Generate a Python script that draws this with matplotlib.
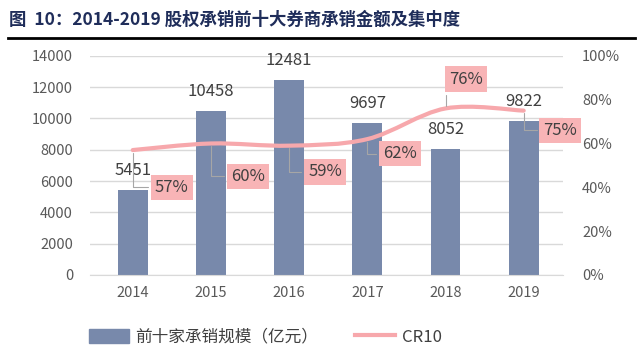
import numpy as np
import matplotlib.pyplot as plt
from matplotlib.lines import Line2D
from matplotlib.patches import Patch, PathPatch
from matplotlib.path import Path

plt.rcParams['font.family'] = ['Noto Sans CJK SC', 'DejaVu Sans']

years = ['2014', '2015', '2016', '2017', '2018', '2019']
amount = [5451, 10458, 12481, 9697, 8052, 9822]
cr10 = [0.57, 0.60, 0.59, 0.62, 0.76, 0.75]
cr10_text = ['57%', '60%', '59%', '62%', '76%', '75%']

bar_color = '#7889AB'
line_color = '#F7A8AC'
box_color = '#F8B4B6'
grey = '#595959'

fig = plt.figure(figsize=(6.41, 3.58), dpi=100)
ax = fig.add_axes([0.140, 0.232, 0.738, 0.612])
ax2 = ax.twinx()

x = np.arange(len(years))
ax.bar(x, amount, width=0.38, color=bar_color, zorder=2)
ax.set_ylim(0, 14000)
ax.set_yticks(np.arange(0, 14001, 2000))
ax.set_xlim(-0.55, 5.5)
ax.set_xticks(x)
ax.set_xticklabels(years)
ax.grid(axis='y', color='#D9D9D9', lw=1, zorder=0)
for s in ['top', 'right', 'left']:
    ax.spines[s].set_visible(False)
ax.spines['bottom'].set_color('#D9D9D9')
ax.tick_params(length=0, colors=grey, labelsize=10.5, pad=8)
ax.tick_params(axis='y', pad=12)

for xi, v in zip(x, amount):
    ax.text(xi, v + 700, str(v), ha='center', va='bottom', fontsize=12, color='#404040')

# smoothed line (Catmull-Rom style bezier through the data points)
xs = x.astype(float)
ys = np.array(cr10)
verts = [(xs[0], ys[0])]
codes = [Path.MOVETO]
for i in range(len(xs) - 1):
    p0 = (xs[max(i - 1, 0)], ys[max(i - 1, 0)])
    p1 = (xs[i], ys[i])
    p2 = (xs[i + 1], ys[i + 1])
    p3 = (xs[min(i + 2, len(xs) - 1)], ys[min(i + 2, len(xs) - 1)])
    c1 = (p1[0] + (p2[0] - p0[0]) / 6, p1[1] + (p2[1] - p0[1]) / 6)
    c2 = (p2[0] - (p3[0] - p1[0]) / 6, p2[1] - (p3[1] - p1[1]) / 6)
    verts += [c1, c2, p2]
    codes += [Path.CURVE4] * 3
ax2.add_patch(PathPatch(Path(verts, codes), fill=False, ec=line_color, lw=3, zorder=3,
                        capstyle='round'))

ax2.set_ylim(0, 1)
ax2.set_yticks(np.arange(0, 1.01, 0.2))
ax2.set_yticklabels(['0%', '20%', '40%', '60%', '80%', '100%'])
for s in ['top', 'right', 'left', 'bottom']:
    ax2.spines[s].set_visible(False)
ax2.tick_params(length=0, colors=grey, labelsize=10.5, pad=14)

# label offsets (in data units) for the percent boxes
dx = [0.50, 0.47, 0.46, 0.42, 0.26, 0.47]
dy = [-0.17, -0.15, -0.12, -0.067, 0.134, -0.09]
for xi, v, t, ox, oy in zip(x, cr10, cr10_text, dx, dy):
    ax2.annotate(t, xy=(xi, v), xytext=(xi + ox, v + oy), ha='center', va='center',
                 fontsize=12, color='#404040',
                 bbox=dict(boxstyle='square,pad=0.25', fc=box_color, ec='none'),
                 arrowprops=dict(arrowstyle='-', color='#A6A6A6', lw=0.8,
                                 connectionstyle='angle,angleA=0,angleB=90,rad=0'),
                 zorder=4)

fig.text(0.014, 0.945, '图  10：2014-2019 股权承销前十大券商承销金额及集中度',
         fontsize=12.5, fontweight='bold', color='#1F2D5A', va='center')
fig.add_artist(Line2D([0.012, 0.99], [0.893, 0.893], color='black', lw=2))

handles = [Patch(color=bar_color), Line2D([], [], color=line_color, lw=3)]
fig.legend(handles, ['前十家承销规模（亿元）', 'CR10'], loc='center left',
           bbox_to_anchor=(0.115, 0.058), ncol=2, frameon=False, fontsize=12,
           handlelength=2.4, handleheight=0.9, handletextpad=0.4,
           columnspacing=2.2, labelcolor='#404040')

fig.savefig('out.png', dpi=100)
